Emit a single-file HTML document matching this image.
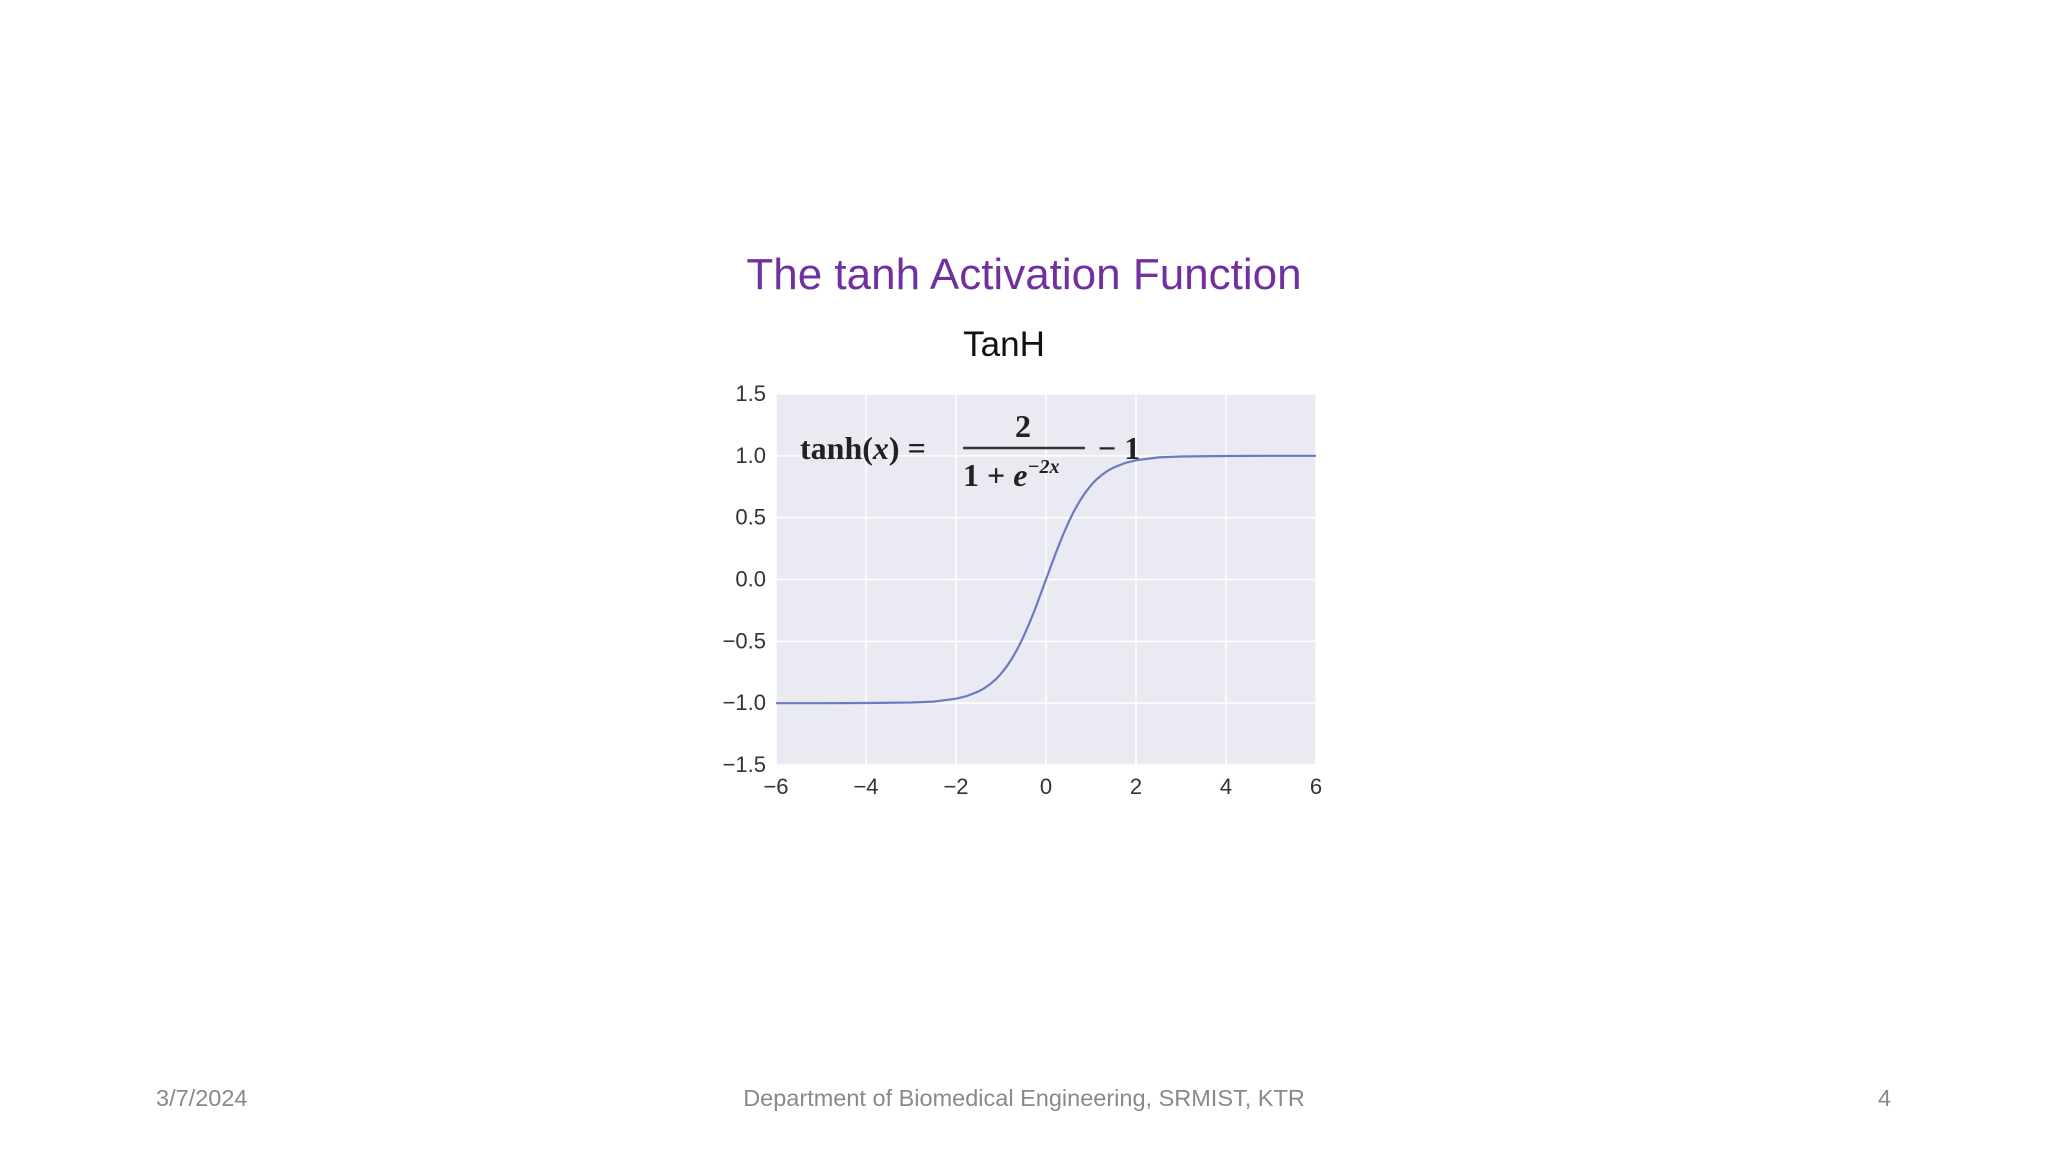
<!DOCTYPE html>
<html><head><meta charset="utf-8"><style>
html,body{margin:0;padding:0;background:#fff;}
body{width:2048px;height:1152px;position:relative;overflow:hidden;font-family:"Liberation Sans",sans-serif;}
.t{position:absolute;white-space:nowrap;}
</style></head><body>
<div class="t" style="left:0;width:2048px;text-align:center;top:250px;font-size:44px;color:#7030A0;">The tanh Activation Function</div>
<svg width="2048" height="1152" style="position:absolute;left:0;top:0" id="chart">
<text x="1004" y="356" font-size="35" text-anchor="middle" fill="#111" font-family="Liberation Sans">TanH</text>
</svg>
<div class="t" style="left:156px;top:1085px;font-size:23.5px;color:#898989;">3/7/2024</div>
<div class="t" style="left:0;width:2048px;text-align:center;top:1085px;font-size:23.5px;color:#898989;">Department of Biomedical Engineering, SRMIST, KTR</div>
<div class="t" style="left:1878px;top:1085px;font-size:23.5px;color:#898989;">4</div>
<script>
const xTicks=[-6,-4,-2,0,2,4,6];
const yTicks=[-1.5,-1.0,-0.5,0.0,0.5,1.0,1.5];
const xTickLabels=["\u22126","\u22124","\u22122","0","2","4","6"];
const yTickLabels=["\u22121.5","\u22121.0","\u22120.5","0.0","0.5","1.0","1.5"];
const xs=[-6,-5,-4,-3,-2.5,-2,-1.75,-1.5,-1.375,-1.25,-1.125,-1,-0.875,-0.75,-0.625,-0.5,-0.375,-0.25,-0.125,0,0.125,0.25,0.375,0.5,0.625,0.75,0.875,1,1.125,1.25,1.375,1.5,1.75,2,2.5,3,4,5,6];
const ys=[-1,-1,-0.999,-0.995,-0.987,-0.964,-0.941,-0.905,-0.880,-0.848,-0.810,-0.762,-0.704,-0.635,-0.555,-0.462,-0.358,-0.245,-0.124,0,0.124,0.245,0.358,0.462,0.555,0.635,0.704,0.762,0.810,0.848,0.880,0.905,0.941,0.964,0.987,0.995,0.999,1,1];
const NS="http://www.w3.org/2000/svg";
const L=776,R=1316,T=394,B=765;
const sx=v=>L+(v+6)/12*(R-L);
const sy=v=>B-(v+1.5)/3*(B-T);
const svg=document.getElementById('chart');
function mk(tag,attrs){const e=document.createElementNS(NS,tag);for(const k in attrs)e.setAttribute(k,attrs[k]);svg.appendChild(e);return e;}
const bg=mk('rect',{x:L,y:T,width:R-L,height:B-T,fill:'#EAEAF2'});


xTicks.forEach((v,i)=>{
 const g=mk('line',{x1:sx(v),x2:sx(v),y1:T,y2:B,stroke:'#fff','stroke-width':1.5});
 
 
 const t=mk('text',{x:sx(v),y:B+29,'font-size':22,'text-anchor':'middle',fill:'#333','font-family':'Liberation Sans'});
 t.textContent=xTickLabels[i];
 
 
});
yTicks.forEach((v,i)=>{
 const g=mk('line',{x1:L,x2:R,y1:sy(v),y2:sy(v),stroke:'#fff','stroke-width':1.5});
 
 
 const t=mk('text',{x:L-10,y:sy(v)+7,'font-size':22,'text-anchor':'end',fill:'#333','font-family':'Liberation Sans'});
 t.textContent=yTickLabels[i];
 
 
});
let d='';xs.forEach((x,i)=>{d+=(i?'L':'M')+sx(x).toFixed(1)+','+sy(ys[i]).toFixed(1);});
const p=mk('path',{d:d,fill:'none',stroke:'#6a7cbf','stroke-width':2.2,'stroke-linejoin':'round'});


const f='Liberation Serif';
const a=mk('text',{x:800,y:459,'font-size':32,'font-weight':'bold',fill:'#222','font-family':f});
a.textContent='tanh(';


const a2=mk('tspan',{'font-style':'italic'});a2.textContent='x';a.appendChild(a2);
const a3=mk('tspan',{});a3.textContent=') =';a.appendChild(a3);
const n=mk('text',{x:1023,y:437,'font-size':32,'font-weight':'bold','text-anchor':'middle',fill:'#222','font-family':f});
n.textContent='2';


const bar=mk('line',{x1:963,x2:1085,y1:448,y2:448,stroke:'#333','stroke-width':2.5});


const dn=mk('text',{x:963,y:486,'font-size':32,'font-weight':'bold',fill:'#222','font-family':f});
dn.textContent='1 + ';


const e1=mk('tspan',{'font-style':'italic'});e1.textContent='e';dn.appendChild(e1);
const e2=mk('tspan',{'font-size':20,dy:-13,'font-style':'italic'});e2.textContent='\u22122x';dn.appendChild(e2);
const m=mk('text',{x:1098,y:459,'font-size':32,'font-weight':'bold',fill:'#222','font-family':f});
m.textContent='\u2212 1';


</script>
</body></html>
